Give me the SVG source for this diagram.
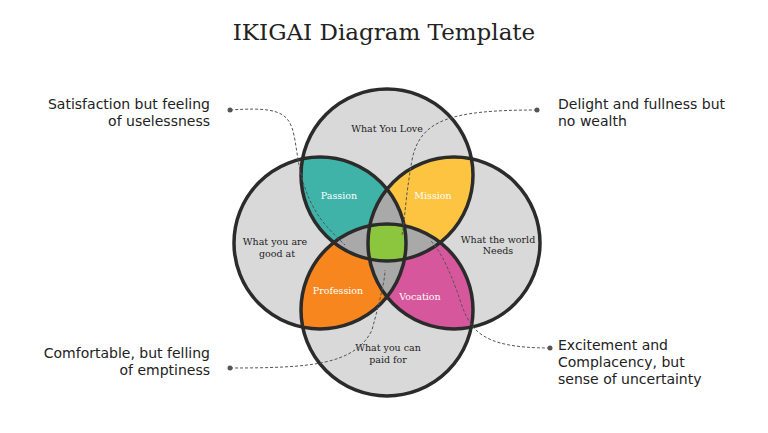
<svg xmlns="http://www.w3.org/2000/svg" width="768" height="433" viewBox="0 0 768 433">
<style>
.c{fill:#d9d9d9}
.o{fill:none;stroke:#2b2b2b;stroke-width:3.5}
.s{font-family:"DejaVu Serif",serif;font-size:9.5px;fill:#222;text-anchor:middle}
.w{font-family:"DejaVu Serif",serif;font-size:9.5px;fill:#fff;text-anchor:middle}
.t{font-family:"DejaVu Sans",sans-serif;font-size:14px;fill:#222}
.d{fill:none;stroke:#555;stroke-width:1;stroke-dasharray:3,2}
</style>
<defs>
<clipPath id="cT"><circle cx="387" cy="175" r="86"/></clipPath>
<clipPath id="cL"><circle cx="320" cy="243" r="86"/></clipPath>
<clipPath id="cR"><circle cx="454" cy="243" r="86"/></clipPath>
<clipPath id="cB"><circle cx="387" cy="310" r="86"/></clipPath>
</defs>
<rect width="768" height="433" fill="#fff"/>
<text x="384" y="40" font-family="DejaVu Serif,serif" font-size="23" fill="#222" text-anchor="middle">IKIGAI Diagram Template</text>
<g id="circles">
<circle class="c" cx="387" cy="175" r="86"/>
<circle class="c" cx="320" cy="243" r="86"/>
<circle class="c" cx="454" cy="243" r="86"/>
<circle class="c" cx="387" cy="310" r="86"/>
</g>
<g id="passion" clip-path="url(#cT)"><circle cx="320" cy="243" r="86" fill="#40b3a9"/></g>
<g id="mission" clip-path="url(#cT)"><circle cx="454" cy="243" r="86" fill="#fdc441"/></g>
<g id="profession" clip-path="url(#cB)"><circle cx="320" cy="243" r="86" fill="#f7861f"/></g>
<g id="vocation" clip-path="url(#cB)"><circle cx="454" cy="243" r="86" fill="#d7579c"/></g>
<g clip-path="url(#cT)"><circle cx="387" cy="310" r="86" fill="#a9a9a9"/></g>
<g clip-path="url(#cL)"><circle cx="454" cy="243" r="86" fill="#a9a9a9"/></g>
<g id="center" clip-path="url(#cT)"><g clip-path="url(#cB)"><g clip-path="url(#cL)"><circle cx="454" cy="243" r="86" fill="#8cc63f"/></g></g></g>
<g id="outlines">
<circle class="o" cx="387" cy="175" r="86"/>
<circle class="o" cx="320" cy="243" r="86"/>
<circle class="o" cx="454" cy="243" r="86"/>
<circle class="o" cx="387" cy="310" r="86"/>
</g>
<g id="labels">
<text class="s" x="387" y="132">What You Love</text>
<text class="w" x="339" y="199">Passion</text>
<text class="w" x="433" y="199">Mission</text>
<text class="s" x="275" y="245">What you are</text>
<text class="s" x="277" y="257">good at</text>
<text class="s" x="498" y="243">What the world</text>
<text class="s" x="498" y="254">Needs</text>
<text class="w" x="338" y="294">Profession</text>
<text class="w" x="420" y="300">Vocation</text>
<text class="s" x="388" y="351">What you can</text>
<text class="s" x="388" y="363">paid for</text>
</g>
<g id="connectors">
<path class="d" d="M230,110 C300,105 290,120 300,170 C310,215 330,230 345,245"/>
<path class="d" d="M537,110 C450,110 420,120 412,160 C405,200 405,220 402,235"/>
<path class="d" d="M230,368 C310,368 355,365 372,330 C380,300 385,280 385,270"/>
<path class="d" d="M550,348 C480,348 470,330 460,300 C450,270 440,250 430,240"/>
<circle cx="230" cy="110" r="2.5" fill="#555"/>
<circle cx="537" cy="110" r="2.5" fill="#555"/>
<circle cx="230" cy="368" r="2.5" fill="#555"/>
<circle cx="550" cy="348" r="2.5" fill="#555"/>
</g>
<g id="notes">
<text class="t" x="210" y="109" text-anchor="end">Satisfaction but feeling</text>
<text class="t" x="210" y="126" text-anchor="end">of uselessness</text>
<text class="t" x="558" y="109">Delight and fullness but</text>
<text class="t" x="558" y="126">no wealth</text>
<text class="t" x="210" y="358" text-anchor="end">Comfortable, but felling</text>
<text class="t" x="210" y="375" text-anchor="end">of emptiness</text>
<text class="t" x="558" y="350">Excitement and</text>
<text class="t" x="558" y="367">Complacency, but</text>
<text class="t" x="558" y="384">sense of uncertainty</text>
</g>
</svg>
